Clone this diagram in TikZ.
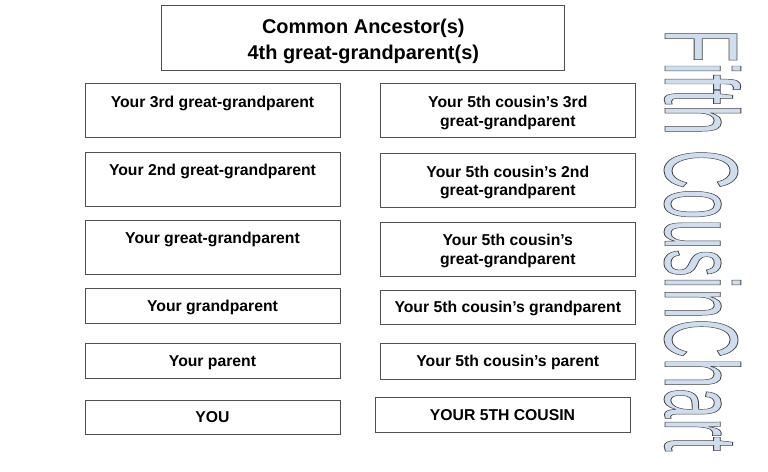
\documentclass[tikz,border=0pt]{standalone}
\usepackage{fontspec}
\setmainfont{Liberation Sans}
\usepackage{graphicx}
\definecolor{boxline}{HTML}{505050}
\definecolor{titlefill}{HTML}{CFDDEE}
\tikzset{
  box/.style={draw=boxline, line width=0.9bp, rectangle, inner sep=0pt, align=center,
    font=\bfseries\fontsize{15.8}{19}\selectfont, text=black},
  tallbox/.style={box, minimum height=54bp, text height=10bp, text depth=17.4bp},
  twoline/.style={box, minimum height=54bp, text height=30.6bp, text depth=0bp},
  lowbox/.style={box, minimum height=35bp, text height=11.2bp, text depth=0bp},
  leftcol/.style={minimum width=255bp},
  rightcol/.style={minimum width=254.3bp},
}
\begin{document}
\begin{tikzpicture}[x=1bp,y=-1bp]
\useasboundingbox (0,0) rectangle (768,472);
\node[box, minimum width=403bp, minimum height=64.6bp, text height=43.8bp, text depth=0bp,
  font=\bfseries\fontsize{20}{26}\selectfont] (anc) at (363.3,38)
  {Common Ancestor(s)\\4th great-grandparent(s)};
% left column
\node[tallbox, leftcol] (l1) at (212.5,110.9) {Your 3rd great-grandparent};
\node[tallbox, leftcol] (l2) at (212.5,179) {Your 2nd great-grandparent};
\node[tallbox, leftcol] (l3) at (212.5,247) {Your great-grandparent};
\node[lowbox, leftcol] (l4) at (212.5,305.5) {Your grandparent};
\node[lowbox, leftcol] (l5) at (212.5,361) {Your parent};
\node[lowbox, leftcol, minimum height=34bp] (l6) at (212.5,417) {YOU};
% right column
\node[twoline, rightcol] (r1) at (507.8,110.9) {Your 5th cousin’s 3rd\\great-grandparent};
\node[twoline, rightcol] (r2) at (507.8,180.7) {Your 5th cousin’s 2nd\\great-grandparent};
\node[twoline, rightcol] (r3) at (507.8,249) {Your 5th cousin’s\\great-grandparent};
\node[lowbox, rightcol, minimum height=34bp] (r4) at (507.8,307) {Your 5th cousin’s grandparent};
\node[lowbox, rightcol, minimum height=36bp] (r5) at (507.8,361) {Your 5th cousin’s parent};
\node[lowbox, minimum width=255bp, minimum height=34.3bp] (r6) at (502.5,414.8) {YOUR 5TH COUSIN};
% vertical title
\node[rotate=-90, anchor=base west, inner sep=0pt, text=titlefill,
  font=\fontsize{105}{105}\selectfont] (title) at (665,29)
  {\special{pdf:code 0.27 0.27 0.27 RG 0.9 w 2 Tr}\scalebox{0.519}[1]{Fifth CousinChart}\special{pdf:code 0 Tr}};
\end{tikzpicture}
\end{document}
